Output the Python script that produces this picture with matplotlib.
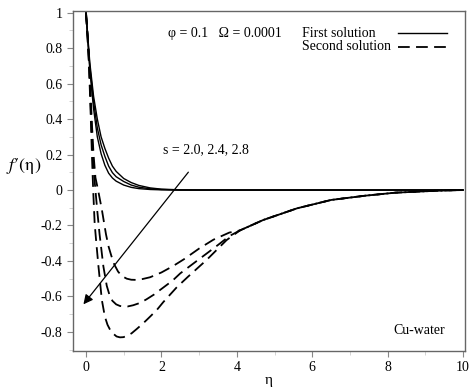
import matplotlib
matplotlib.use("Agg")
import matplotlib.pyplot as plt
from matplotlib.ticker import MultipleLocator
from matplotlib.lines import Line2D

plt.rcParams['font.family'] = ['Liberation Serif', 'DejaVu Serif']
plt.rcParams['mathtext.fontset'] = 'stix'
plt.rcParams['axes.unicode_minus'] = False

# First solution (solid), three values of s
eta_first = [0, 0.1, 0.2, 0.3, 0.4, 0.5, 0.6, 0.7, 0.8, 1.0, 1.2, 1.4, 1.7, 2.0, 2.5, 3.0, 10.0]
f_first_s20 = [1, 0.72, 0.53, 0.40, 0.30, 0.235, 0.18, 0.135, 0.105, 0.065, 0.042, 0.026, 0.012, 0.005, 0.001, 0.0, 0.0]
f_first_s24 = [1, 0.70, 0.50, 0.35, 0.255, 0.19, 0.135, 0.098, 0.075, 0.048, 0.028, 0.016, 0.007, 0.003, 0.0, 0.0, 0.0]
f_first_s28 = [1, 0.68, 0.46, 0.30, 0.205, 0.14, 0.095, 0.068, 0.05, 0.028, 0.015, 0.008, 0.003, 0.001, 0.0, 0.0, 0.0]

# Second solution (dashed), three values of s
eta_second_s20 = [0, 0.04, 0.08, 0.12, 0.16, 0.20, 0.25, 0.32, 0.42, 0.53, 0.60, 0.67, 0.75, 0.85, 0.95, 1.08, 1.20, 1.34, 1.50,
                  1.70, 2.0, 2.3, 2.6, 3.0, 3.38, 3.8,
                  4.08, 4.7, 5.6, 6.5, 7.4, 8.2, 9.1, 9.6, 10.0]
f_second_s20 = [1, 0.88, 0.74, 0.55, 0.36, 0.20, 0.07, 0.0, -0.11, -0.25, -0.32, -0.37, -0.42, -0.46, -0.485, -0.50, -0.506, -0.507, -0.502,
                -0.492, -0.465, -0.43, -0.39, -0.33, -0.28, -0.24,
                -0.228, -0.169, -0.103, -0.056, -0.032, -0.015, -0.006, -0.002, 0.0]

eta_second_s24 = [0, 0.04, 0.08, 0.12, 0.16, 0.20, 0.25, 0.30, 0.36, 0.46, 0.55, 0.62, 0.70, 0.80, 0.90, 1.00, 1.10, 1.25, 1.43,
                  1.60, 1.80, 2.05, 2.3, 2.5, 3.0, 3.5, 3.8,
                  4.08, 4.7, 5.6, 6.5, 7.4, 8.2, 9.1, 9.6, 10.0]
f_second_s24 = [1, 0.87, 0.72, 0.50, 0.28, 0.12, 0.0, -0.12, -0.25, -0.43, -0.54, -0.59, -0.625, -0.645, -0.654, -0.657, -0.657, -0.65, -0.637,
                -0.617, -0.59, -0.55, -0.51, -0.47, -0.39, -0.31, -0.26,
                -0.228, -0.169, -0.103, -0.056, -0.032, -0.015, -0.006, -0.002, 0.0]

eta_second_s28 = [0, 0.04, 0.08, 0.12, 0.16, 0.19, 0.23, 0.27, 0.33, 0.42, 0.50, 0.57, 0.64, 0.72, 0.81, 0.90, 0.99, 1.10, 1.21, 1.35,
                  1.52, 1.70, 1.88, 2.05, 2.4, 2.7, 3.2, 3.73,
                  4.08, 4.7, 5.6, 6.5, 7.4, 8.2, 9.1, 9.6, 10.0]
f_second_s28 = [1, 0.86, 0.70, 0.45, 0.18, 0.0, -0.19, -0.29, -0.43, -0.62, -0.714, -0.76, -0.789, -0.81, -0.826, -0.831, -0.83, -0.822, -0.808, -0.783,
                -0.751, -0.714, -0.676, -0.632, -0.55, -0.49, -0.394, -0.282,
                -0.228, -0.169, -0.103, -0.056, -0.032, -0.015, -0.006, -0.002, 0.0]

x_ticks = [0, 2, 4, 6, 8, 10]
y_ticks = [-0.8, -0.6, -0.4, -0.2, 0, 0.2, 0.4, 0.6, 0.8, 1]
y_tick_labels = ['-0.8', '-0.6', '-0.4', '-0.2', '0', '0.2', '0.4', '0.6', '0.8', '1']
legend_labels = ['First solution', 'Second solution']

fig = plt.figure(figsize=(4.74, 3.92), dpi=100)
ax = fig.add_axes([0.154, 0.1046, 0.827, 0.8674])

solid_kw = dict(color='black', lw=1.0, ls='-')
dash_kw = dict(color='black', lw=1.3, ls=(0, (6.5, 3.5)))

ax.plot(eta_first, f_first_s20, **solid_kw)
ax.plot(eta_first, f_first_s24, **solid_kw)
ax.plot(eta_first, f_first_s28, **solid_kw)
ax.plot(eta_second_s20, f_second_s20, **dash_kw)
ax.plot(eta_second_s24, f_second_s24, **dash_kw)
ax.plot(eta_second_s28, f_second_s28, **dash_kw)

ax.set_xlim(-0.345, 10.05)
ax.set_ylim(-0.908, 1.01)
ax.set_xticks(x_ticks)
ax.set_xticklabels([str(v) for v in x_ticks])
ax.set_yticks(y_ticks)
ax.set_yticklabels(y_tick_labels)
ax.xaxis.set_minor_locator(MultipleLocator(1))
ax.yaxis.set_minor_locator(MultipleLocator(0.1))
ax.tick_params(which='major', direction='out', length=4, width=0.8, color='#888888', labelsize=10)
ax.tick_params(which='minor', direction='out', length=3, width=0.6, color='#cccccc')
for s in ax.spines.values():
    s.set_color('#666666')
    s.set_linewidth(1.0)

ax.set_xlabel('η', fontsize=11, labelpad=0)
ax.set_ylabel(r"$f\prime(\mathrm{\eta})$", fontsize=13, rotation=0)
ax.yaxis.set_label_coords(-0.125, 0.515)

# legend: label first, line sample to the right
leg_x_text = 0.584
leg_y = [0.935, 0.895]
leg_line_x = (0.829, 0.954)
styles = [solid_kw, dash_kw]
for lab, yy, st in zip(legend_labels, leg_y, styles):
    ax.text(leg_x_text, yy, lab, transform=ax.transAxes, fontsize=10, va='center', ha='left')
    ax.add_line(Line2D(leg_line_x, [yy, yy], transform=ax.transAxes, **st))

ax.text(0.242, 0.935, 'φ = 0.1   Ω = 0.0001', transform=ax.transAxes, fontsize=10, va='center', ha='left')
ax.text(2.04, 0.225, 's = 2.0, 2.4, 2.8', fontsize=10, va='center', ha='left')
ax.text(0.95, 0.06, 'Cu-water', transform=ax.transAxes, fontsize=10, va='center', ha='right')

ax.annotate('', xy=(-0.114, -0.657), xytext=(2.76, 0.113),
            arrowprops=dict(arrowstyle='-|>', color='black', lw=0.9, mutation_scale=14))

fig.savefig('out.png', dpi=100)
